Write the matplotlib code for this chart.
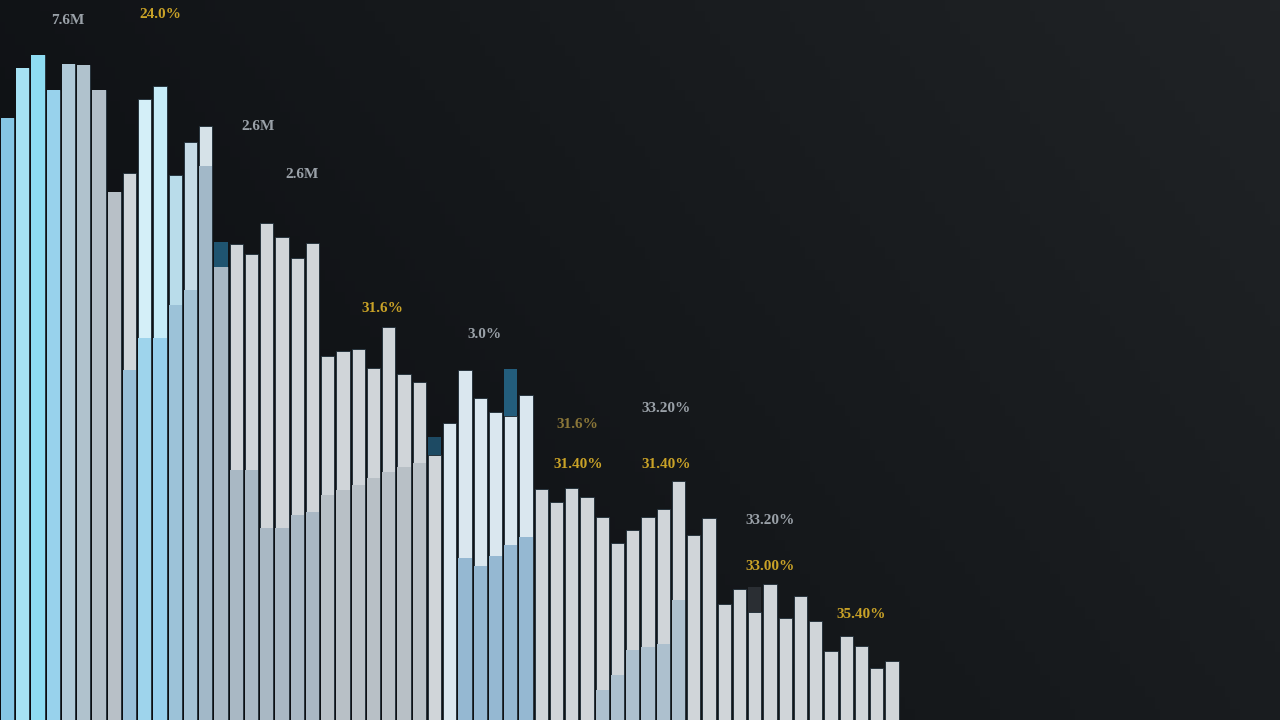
import numpy as np
import matplotlib
matplotlib.use("Agg")
from matplotlib import pyplot as plt
from matplotlib.colors import LinearSegmentedColormap

# bar heights (arbitrary units), left to right
heights = [60.2, 65.2, 66.5, 63.0, 65.6, 65.5, 63.0, 52.8, 54.7, 62.1,
           63.4, 54.5, 57.8, 59.4, 45.3, 47.6, 46.6, 49.7, 48.3, 46.2,
           47.7, 36.4, 36.9, 37.1, 35.2, 39.3, 34.6, 33.8, 26.5, 29.7,
           35.0, 32.2, 30.8, 30.4, 32.5, 23.1, 21.8, 23.2, 22.3, 20.3,
           17.7, 19.0, 20.3, 21.1, 23.9, 18.5, 20.2, 11.6, 13.1, 10.8,
           13.6, 10.2, 12.4, 9.9, 6.9, 8.4, 7.4, 5.2, 5.9]

# lower (bluer) part of each bar
lower = [60.2, 65.2, 66.5, 63.0, 65.6, 65.5, 63.0, 52.8, 35.0, 38.2,
         38.2, 41.5, 43.0, 55.4, 45.3, 25.0, 25.0, 19.2, 19.2, 20.5,
         20.8, 22.5, 23.0, 23.5, 24.2, 24.8, 25.3, 25.7, 0, 0,
         16.2, 15.4, 16.4, 17.5, 18.3, 0, 0, 0, 0, 3.0,
         4.5, 7.0, 7.3, 7.6, 12.0, 0, 0, 0, 0, 0,
         0, 0, 0, 0, 0, 0, 0, 0, 0]

# dark caps sitting above a few bars
cap_idx = [14, 28, 33, 49]
cap_top = [47.8, 28.3, 35.1, 13.3]

# value labels floating over the bars
label_text = ["7.6M", "24.0%", "2.6M", "2.6M", "31.6%", "3.0%", "31.6%",
              "31.40%", "33.20%", "31.40%", "33.20%", "33.00%", "35.40%"]
label_x = [3.97, 10.0, 16.4, 19.3, 24.6, 31.3, 37.4, 37.4, 43.2, 43.2, 50.0, 50.0, 56.0]
label_y = [70.0, 70.5, 59.3, 54.5, 41.2, 38.6, 29.6, 25.5, 31.1, 25.6, 19.9, 15.4, 10.6]
label_kind = ["g", "y", "g", "g", "y", "g", "d", "y", "g", "y", "g", "y", "y"]

n = len(heights)
x = np.arange(n)

# colours
top_cols = ["#9fd6ea", "#c2eefa", "#b6f0fa", "#b2e0f0", "#c6d2d8", "#c4cdd3",
            "#c2cad0", "#c6ccd1", "#d0d6da", "#d4eff8", "#c6ecf8", "#b9dcea",
            "#c6dbe6", "#d6e2e8", "#a8b8c4"]
top_cols += ["#d0d5d9"] * (n - len(top_cols))
for i in range(29, 35):
    top_cols[i] = "#dae7ef"
low_cols = ["#86c6e4", "#a6e2f4", "#8edcf2", "#98d2ec", "#b0cad8", "#b0c2cd",
            "#b2bec7", "#b8c0c7", "#98bfd8", "#9ed4ec", "#96cfec", "#9cc2d8",
            "#a4c2d4", "#a2b8c8", "#a8b8c4"]
low_cols += ["#b2bcc4"] * (n - len(low_cols))
for i in range(15, 21):
    low_cols[i] = "#a9b8c4"
for i in range(21, 28):
    low_cols[i] = "#b8c0c6"
for i in range(30, 35):
    low_cols[i] = "#95b8d2"
for i in range(39, 45):
    low_cols[i] = "#adc0ce"
label_col = {"g": "#9aa1a8", "y": "#c9a227", "d": "#8a7638"}

fig = plt.figure(figsize=(12.8, 7.2), dpi=100)
ax = fig.add_axes([0, 0, 1, 1])
xmin, xmax = -7.5 / 15.25, (1280 - 7.5) / 15.25
ax.set_xlim(xmin, xmax)
ax.set_ylim(0, 72)
ax.axis("off")

# background gradient, darker top-left
gx = np.linspace(0, 1, 256)
gy = np.linspace(1, 0, 64)[:, None]
grad = 0.7 * gx[None, :] + 0.3 * gy
bg = LinearSegmentedColormap.from_list("bg", ["#0a0c10", "#15181b", "#202326"])
ax.imshow(grad, extent=[xmin, xmax, 0, 72], aspect="auto", cmap=bg,
          origin="upper", zorder=0)

ax.bar(x, heights, width=0.86, color=top_cols, edgecolor="#1c2a34",
       linewidth=0.6, zorder=2)
ax.bar(x, lower, width=0.86, color=low_cols, linewidth=0, zorder=3)
cap_base = [heights[i] for i in cap_idx]
ax.bar(cap_idx, np.array(cap_top) - np.array(cap_base), bottom=cap_base,
       width=0.86, color=["#1f5470", "#1d4a63", "#235d7c", "#2a2e33"],
       linewidth=0, zorder=3)

for t, lx, ly, k in zip(label_text, label_x, label_y, label_kind):
    ax.text(lx, ly, t, ha="center", va="center", fontsize=11,
            family="Liberation Serif", fontweight="bold", color=label_col[k],
            zorder=4)

fig.savefig("out.png", dpi=100, facecolor="#121417")
